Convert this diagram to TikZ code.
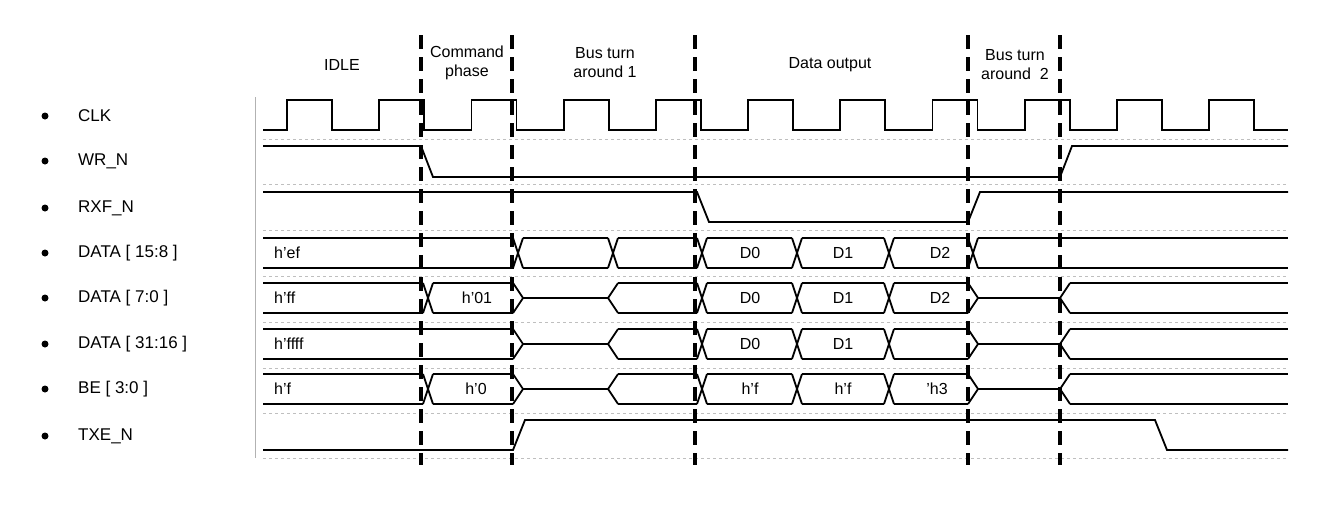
\documentclass[tikz,border=0pt]{standalone}
\usepackage{fontspec}
\setmainfont{Liberation Sans}
\tikzset{
  sig/.style={line width=1.8pt, line join=miter},
  phase/.style={line width=3.2pt, dash pattern=on 14pt off 8pt},
  grid/.style={gray!50, dashed, line width=0.6pt},
  lbl/.style={font=\fontsize{17}{20}\selectfont, anchor=west, inner sep=0pt},
  val/.style={font=\fontsize{16}{19}\selectfont, inner sep=0pt},
  head/.style={font=\fontsize{16}{19}\selectfont, align=center, inner sep=0pt}
}
% bus helpers: top y, 30 high
\newcommand\busX[2]{\draw[sig] (#1,#2) -- ++(10,30) (#1,#2+30) -- ++(10,-30);}
\newcommand\busV[3]{\draw[sig] (#1,#3) -- (#2,#3) (#1,#3+30) -- (#2,#3+30);}
\newcommand\busClose[2]{\draw[sig] (#1,#2) -- ++(10,15) -- ++(-10,15);}
\newcommand\busOpen[2]{\draw[sig] (#1+10,#2) -- ++(-10,15) -- ++(10,15);}
\newcommand\busZ[3]{\draw[sig] (#1,#3+15) -- (#2,#3+15);}
\begin{document}
\begin{tikzpicture}[x=1pt,y=-1pt]
\useasboundingbox (0,0) rectangle (1334,517);

% grid
\foreach \y in {139,184,230,276,322,368,413,458}
  \draw[grid] (263,\y) -- (1288,\y);
\draw[gray!60, line width=1pt] (255,97) -- (255,458);

% signal names
\foreach \n/\t/\y in {clk/CLK/116, wr/WR\_N/161, rxf/RXF\_N/208, dhi/DATA [ 15:8 ]/253,
    dlo/DATA [ 7:0 ]/298, dup/DATA [ 31:16 ]/344, be/BE [ 3:0 ]/389, txe/TXE\_N/436}{
  \fill (45,\y) circle (3.5pt);
  \node[lbl] (n-\n) at (78,\y) {\t};
}

% phase headers
\node[head] (h-idle) at (342,65) {IDLE};
\node[head] (h-cmd) at (467,63) {Command\\phase};
\node[head] (h-bt1) at (605,63) {Bus turn\\around 1};
\node[head] (h-data) at (830,65) {Data output};
\node[head] (h-bt2) at (1015,65) {Bus turn\\around\ \ 2};

% CLK
\draw[sig] (263,130) -- (287,130)
  \foreach \k in {0,...,10}{ -- ({287+92.2*\k},130) -- ({287+92.2*\k},100)
    -- ({332+92.2*\k},100) -- ({332+92.2*\k},130) } -- (1288,130);

% WR_N, RXF_N, TXE_N
\draw[sig] (263,146) -- (421,146) -- (433,177) -- (1060,177) -- (1072,146) -- (1288,146);
\draw[sig] (263,192) -- (697,192) -- (709,222) -- (968,222) -- (980,192) -- (1288,192);
\draw[sig] (263,450) -- (513,450) -- (525,420) -- (1155,420) -- (1167,450) -- (1288,450);

% DATA [15:8]
\busV{263}{513}{238} \busX{513}{238} \busV{523}{608}{238} \busX{608}{238}
\busV{618}{697}{238} \busX{697}{238} \busV{707}{792}{238} \busX{792}{238}
\busV{802}{884}{238} \busX{884}{238} \busV{894}{968}{238} \busX{968}{238}
\busV{978}{1288}{238}
% DATA [7:0]
\busV{263}{423}{283} \busX{423}{283} \busV{433}{513}{283} \busClose{513}{283}
\busZ{523}{608}{283} \busOpen{608}{283} \busV{618}{697}{283} \busX{697}{283}
\busV{707}{792}{283} \busX{792}{283} \busV{802}{884}{283} \busX{884}{283}
\busV{894}{968}{283} \busClose{968}{283} \busZ{978}{1060}{283} \busOpen{1060}{283}
\busV{1070}{1288}{283}
% DATA [31:16]
\busV{263}{513}{329} \busClose{513}{329}
\busZ{523}{608}{329} \busOpen{608}{329} \busV{618}{697}{329} \busX{697}{329}
\busV{707}{792}{329} \busX{792}{329} \busV{802}{884}{329} \busX{884}{329}
\busV{894}{968}{329} \busClose{968}{329} \busZ{978}{1060}{329} \busOpen{1060}{329}
\busV{1070}{1288}{329}
% BE [3:0]
\busV{263}{423}{374} \busX{423}{374} \busV{433}{513}{374} \busClose{513}{374}
\busZ{523}{608}{374} \busOpen{608}{374} \busV{618}{697}{374} \busX{697}{374}
\busV{707}{792}{374} \busX{792}{374} \busV{802}{884}{374} \busX{884}{374}
\busV{894}{968}{374} \busClose{968}{374} \busZ{978}{1060}{374} \busOpen{1060}{374}
\busV{1070}{1288}{374}

% bus values
\node[val, anchor=west] (v-ef) at (274,253) {h'ef};
\node[val, anchor=west] (v-ff) at (274,298) {h'ff};
\node[val, anchor=west] (v-ffff) at (274,344) {h'ffff};
\node[val, anchor=west] (v-f) at (274,389) {h'f};
\node[val] (v-01) at (477,298) {h'01};
\node[val] (v-0) at (476,389) {h'0};
\foreach \r/\y in {dhi/253, dlo/298}{
  \node[val] (\r-d0) at (750,\y) {D0};
  \node[val] (\r-d1) at (843,\y) {D1};
  \node[val] (\r-d2) at (940,\y) {D2};
}
\node[val] (dup-d0) at (750,344) {D0};
\node[val] (dup-d1) at (843,344) {D1};
\node[val] (be-0) at (750,389) {h'f};
\node[val] (be-1) at (843,389) {h'f};
\node[val] (be-2) at (937,389) {'h3};

% phase boundaries
\foreach \x in {421,512,695,968,1060}
  \draw[phase] (\x,35) -- (\x,465);
\end{tikzpicture}
\end{document}
